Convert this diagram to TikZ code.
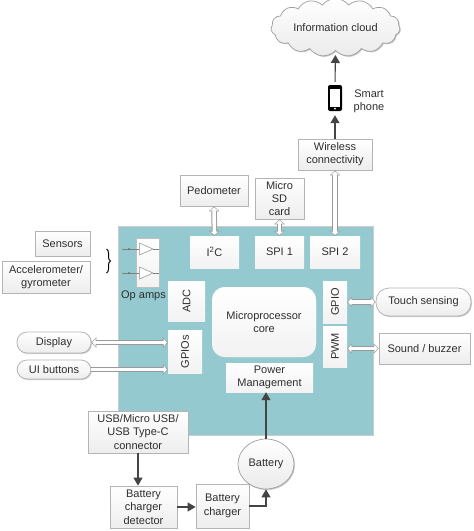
\documentclass[tikz,border=0pt]{standalone}
\usepackage{fontspec}
\usepackage{graphicx}
\setmainfont{Liberation Sans}
\usetikzlibrary{arrows.meta,shapes.symbols,shapes.geometric,shadows,calc,decorations.pathreplacing}
\definecolor{teal1}{HTML}{93C9CF}
\definecolor{edge}{HTML}{B4B4B4}
\definecolor{ink}{HTML}{2E2E2E}
\definecolor{arrowc}{HTML}{444444}
\tikzset{
  x=1pt,y=-1pt,
  every node/.style={font=\fontsize{11}{13.3}\selectfont,text=ink,align=center,inner sep=0pt},
  softshadow/.style={drop shadow={shadow xshift=1pt,shadow yshift=-1pt,fill=black,opacity=0.22}},
  gbox/.style={draw=edge,line width=0.8pt,top color=white,bottom color=black!7,softshadow},
  inbox/.style={fill=white,top color=white,bottom color=black!5},
  pill/.style={gbox,rounded corners=10pt},
  solidarrow/.style={draw=arrowc,line width=1.1pt,-{Triangle[length=8pt,width=9pt]}},
  hoOuter/.style={draw=black!40,line width=5.6pt,{Triangle[length=5pt,width=10.5pt]}-{Triangle[length=5pt,width=10.5pt]}},
  hoInner/.style={draw=white,line width=3.6pt,{Triangle[length=3.2pt,width=7.6pt]}-{Triangle[length=3.2pt,width=7.6pt]},shorten >=1pt,shorten <=1pt},
  hoOuterOne/.style={draw=black!40,line width=5.6pt,-{Triangle[length=5pt,width=10.5pt]}},
  hoInnerOne/.style={draw=white,line width=3.6pt,-{Triangle[length=3.2pt,width=7.6pt]},shorten >=1pt},
  opline/.style={draw=black!50,line width=0.4pt},
}
\newcommand{\bx}[7][gbox]{\node[#1,minimum width=#5-#3,minimum height=#6-#4] (#2) at ({(#3+#5)/2},{(#4+#6)/2}) {#7};}
\newcommand{\harrow}[2]{\draw[hoOuter] #1 -- #2; \draw[hoInner] #1 -- #2;}
\newcommand{\harrowone}[2]{\draw[hoOuterOne] #1 -- #2; \draw[hoInnerOne] #1 -- #2;}
\begin{document}
\begin{tikzpicture}
\useasboundingbox (0,0) rectangle (474,531);
% main panel
\fill[teal1,draw=black!20,line width=0.5pt] (118,226) rectangle (373,435);
% top chain
\node[cloud,cloud puffs=15,cloud puff arc=105,aspect=2.55,draw=black!38,line width=0.7pt,top color=white,bottom color=black!8,softshadow,minimum width=129pt,minimum height=52pt] (cloud) at (335.5,27.5) {Information cloud};
\coordinate (ph) at (335,98);
\fill[black,rounded corners=2pt] (328,85) rectangle (342,111);
\fill[white] (330,89) rectangle (340,106.5);
\fill[white] (335,108.7) circle (1pt);
\node[minimum width=14pt,minimum height=26pt] (phone) at (ph) {};
\node (smart) at (369,101.5) {Smart\\phone};
\bx{wifi}{298}{139}{372}{170}{Wireless\\connectivity}
\bx{ped}{180}{175}{248}{206}{Pedometer}
\bx{sd}{255}{178}{304}{219}{Micro\\SD\\card}
% left inputs
\bx{sens}{35}{231}{90}{256}{Sensors}
\bx{accel}{2}{261}{90}{293}{Accelerometer/\\gyrometer}
\draw[black,line width=1pt,decorate,decoration={brace,amplitude=4pt}] (106.5,249) -- (106.5,273);
% inside panel
\bx[inbox]{i2c}{190}{236}{239}{268}{I\textsuperscript{2}C}
\bx[inbox]{spia}{255}{236}{304}{268}{SPI 1}
\bx[inbox]{spib}{310}{236}{360}{268}{SPI 2}
\bx[inbox,draw=black!25,line width=0.5pt]{opbox}{136}{238}{159}{287}{}
\node (opl) at (143.5,296) {Op amps};
\foreach \yy in {249,273}{
  \draw[opline] (122,\yy) -- (139,\yy);
  \draw[opline] (153,\yy) -- (159,\yy);
  \fill[black!55] (128,\yy-1) -- (131,\yy) -- (128,\yy+1) -- cycle;
  \draw[draw=black!45,line width=0.5pt,fill=white] (139.5,\yy-6) -- (153,\yy) -- (139.5,\yy+6) -- cycle;
}
\bx[inbox]{adc}{168}{281}{205}{321}{\rotatebox{90}{ADC}}
\bx[inbox]{gpios}{168}{330}{202}{373}{\rotatebox{90}{GPIOs}}
\bx[inbox,rounded corners=13pt]{core}{212}{287}{316}{357}{Microprocessor\\core}
\bx[inbox]{gpio}{323}{281}{347}{323}{\rotatebox{90}{GPIO}}
\bx[inbox]{pwm}{323}{326}{347}{367}{\rotatebox{90}{PWM}}
\bx[inbox]{pm}{226}{363}{313}{392}{Power\\Management}
% right and left peripherals
\bx[pill,rounded corners=13pt]{touch}{376}{288}{471}{316}{Touch sensing}
\bx{sound}{379}{333}{470}{364}{Sound / buzzer}
\bx[pill]{disp}{17}{332}{91}{353}{Display}
\bx[pill]{ui}{17}{360}{91}{379}{UI buttons}
% power chain
\bx{usb}{88}{411}{188}{453}{USB/Micro USB/\\USB Type-C\\connector}
\bx{det}{110}{486}{177}{528}{Battery\\charger\\detector}
\bx{chg}{196}{484}{249}{528}{Battery\\charger}
\node[ellipse,draw=black!38,line width=0.7pt,top color=white,bottom color=black!8,softshadow,minimum width=56pt,minimum height=50pt] (batt) at (266,464) {Battery};
% connectors
\coordinate (ux) at (138,453);
\draw[solidarrow,shorten >=4pt,shorten <=3pt] (phone.north) -- (cloud.south);
\draw[solidarrow,shorten >=4pt] (wifi.north) -- (phone.south);
\harrow{(ped.south)}{(i2c.north)}
\harrow{(sd.south)}{(spia.north)}
\harrow{(wifi.south)}{(spib.north)}
\harrow{(disp.east)}{(disp.east -| gpios.west)}
\harrowone{(ui.east)}{(ui.east -| gpios.west)}
\harrow{(touch.west -| gpio.east)}{(touch.west)}
\harrow{(sound.west -| pwm.east)}{(sound.west)}
\draw[solidarrow] (batt.north) -- (pm.south -| batt.north);
\draw[solidarrow] (usb.south -| ux) -- (det.north -| ux);
\draw[solidarrow] (det.east) -- (det.east -| chg.west);
\draw[solidarrow] (chg.east) -| (batt.south);
\end{tikzpicture}
\end{document}
